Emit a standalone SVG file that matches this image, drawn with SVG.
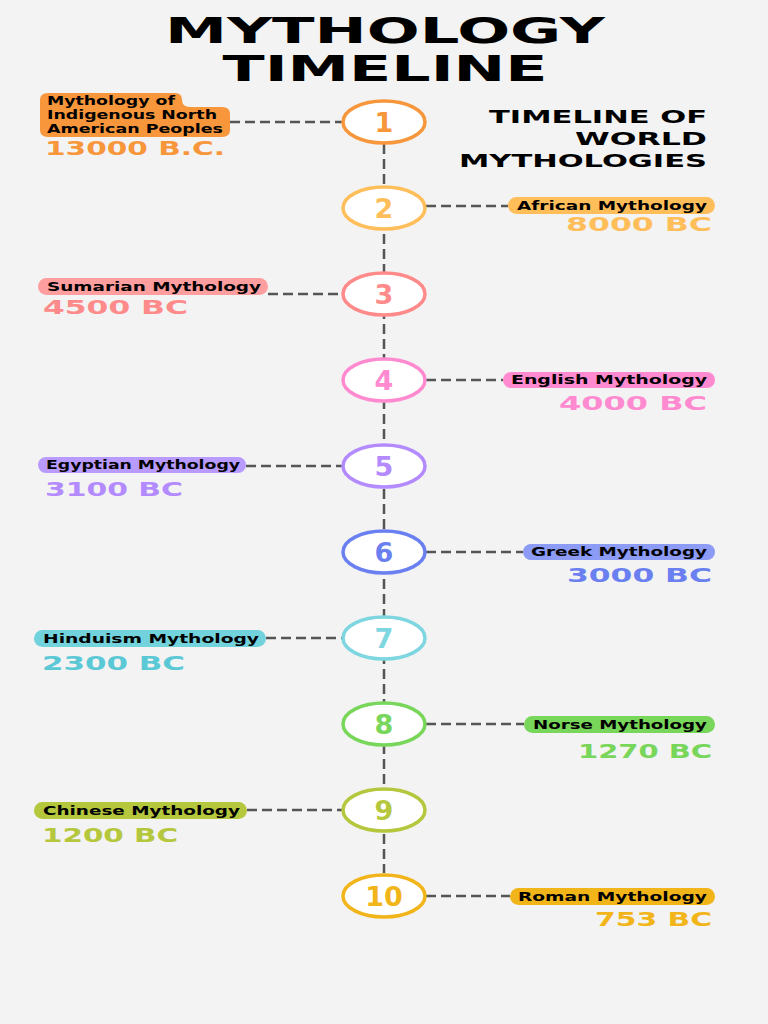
<svg xmlns="http://www.w3.org/2000/svg" width="768" height="1024" viewBox="0 0 768 1024">
<style>
text{font-family:"DejaVu Sans","Liberation Sans",sans-serif;font-weight:bold}
.t{font-size:36px;fill:#000}
.s{font-size:17px;fill:#000}
.n{font-size:27px;text-anchor:middle}
.l{font-size:12px;fill:#000}
.d{font-size:20px}
.c{fill:#fff;stroke-width:3.5}
.k{stroke:#555;stroke-width:2.5;stroke-dasharray:10 5;fill:none}
</style>
<rect width="768" height="1024" fill="#f3f3f3"/>
<text class="t" x="385" y="43" text-anchor="middle" textLength="440" lengthAdjust="spacingAndGlyphs">MYTHOLOGY</text>
<text class="t" x="385" y="81" text-anchor="middle" textLength="325" lengthAdjust="spacingAndGlyphs">TIMELINE</text>
<text class="s" x="707" y="123" text-anchor="end" textLength="218" lengthAdjust="spacingAndGlyphs">TIMELINE OF</text>
<text class="s" x="707" y="145" text-anchor="end" textLength="132" lengthAdjust="spacingAndGlyphs">WORLD</text>
<text class="s" x="707" y="167" text-anchor="end" textLength="248" lengthAdjust="spacingAndGlyphs">MYTHOLOGIES</text>
<g id="connectors">
<line class="k" x1="384" y1="144" x2="384" y2="873"/>
<line class="k" x1="230" y1="122" x2="342" y2="122"/>
<line class="k" x1="426" y1="206" x2="508" y2="206"/>
<line class="k" x1="268" y1="294" x2="342" y2="294"/>
<line class="k" x1="426" y1="380" x2="503" y2="380"/>
<line class="k" x1="246" y1="466" x2="342" y2="466"/>
<line class="k" x1="426" y1="552" x2="523" y2="552"/>
<line class="k" x1="266" y1="638" x2="342" y2="638"/>
<line class="k" x1="426" y1="724" x2="524" y2="724"/>
<line class="k" x1="247" y1="810" x2="342" y2="810"/>
<line class="k" x1="426" y1="896" x2="510" y2="896"/>
</g>
<g id="n1"><ellipse class="c" cx="384" cy="122" rx="41" ry="21" stroke="#F7963B"/><text class="n" x="384" y="132" fill="#F7963B">1</text>
<path d="M48 93 H175 Q182 93 182 100 Q182 107 190 107 H222 Q230 107 230 114 V130 Q230 137 222 137 H48 Q40 137 40 130 V100 Q40 93 48 93 Z" fill="#F7963B"/>
<text class="l" x="47" y="105" textLength="128" lengthAdjust="spacingAndGlyphs">Mythology of</text><text class="l" x="47" y="119" textLength="170" lengthAdjust="spacingAndGlyphs">Indigenous North</text><text class="l" x="47" y="133" textLength="176" lengthAdjust="spacingAndGlyphs">American Peoples</text>
<text class="d" x="45" y="155" fill="#F7963B" textLength="180" lengthAdjust="spacingAndGlyphs">13000 B.C.</text></g>
<g id="n2"><ellipse class="c" cx="384" cy="208" rx="41" ry="21" stroke="#FFBE5A"/><text class="n" x="384" y="218" fill="#FFBE5A">2</text>
<rect x="508" y="197" width="207" height="17" rx="8.5" fill="#FFBE5A"/><text class="l" x="517" y="210" textLength="190" lengthAdjust="spacingAndGlyphs">African Mythology</text>
<text class="d" x="712" y="231" text-anchor="end" fill="#FFBE5A" textLength="146" lengthAdjust="spacingAndGlyphs">8000 BC</text></g>
<g id="n3"><ellipse class="c" cx="384" cy="294" rx="41" ry="21" stroke="#FF8A8A"/><text class="n" x="384" y="304" fill="#FF8A8A">3</text>
<rect x="38" y="278" width="230" height="17" rx="8.5" fill="#FF9E9E"/><text class="l" x="47" y="291" textLength="214" lengthAdjust="spacingAndGlyphs">Sumarian Mythology</text>
<text class="d" x="43" y="314" fill="#FF8A8A" textLength="145" lengthAdjust="spacingAndGlyphs">4500 BC</text></g>
<g id="n4"><ellipse class="c" cx="384" cy="380" rx="41" ry="21" stroke="#FF8AD0"/><text class="n" x="384" y="390" fill="#FF8AD0">4</text>
<rect x="503" y="372" width="212" height="16" rx="8" fill="#FF8AD0"/><text class="l" x="511" y="384" textLength="196" lengthAdjust="spacingAndGlyphs">English  Mythology</text>
<text class="d" x="707" y="410" text-anchor="end" fill="#FF8AD0" textLength="148" lengthAdjust="spacingAndGlyphs">4000 BC</text></g>
<g id="n5"><ellipse class="c" cx="384" cy="466" rx="41" ry="21" stroke="#B48BFF"/><text class="n" x="384" y="476" fill="#B48BFF">5</text>
<rect x="38" y="457" width="208" height="16" rx="8" fill="#B99BFF"/><text class="l" x="46" y="469" textLength="194" lengthAdjust="spacingAndGlyphs">Egyptian Mythology</text>
<text class="d" x="45" y="496" fill="#B48BFF" textLength="138" lengthAdjust="spacingAndGlyphs">3100 BC</text></g>
<g id="n6"><ellipse class="c" cx="384" cy="552" rx="41" ry="21" stroke="#6A7FF0"/><text class="n" x="384" y="562" fill="#6A7FF0">6</text>
<rect x="523" y="544" width="192" height="16" rx="8" fill="#8C9BF5"/><text class="l" x="531" y="556" textLength="176" lengthAdjust="spacingAndGlyphs">Greek Mythology</text>
<text class="d" x="712" y="582" text-anchor="end" fill="#6A7FF0" textLength="145" lengthAdjust="spacingAndGlyphs">3000 BC</text></g>
<g id="n7"><ellipse class="c" cx="384" cy="638" rx="41" ry="21" stroke="#7DD6E0"/><text class="n" x="384" y="648" fill="#7DD6E0">7</text>
<rect x="34" y="630" width="232" height="17" rx="8.5" fill="#72D3DC"/><text class="l" x="43" y="643" textLength="216" lengthAdjust="spacingAndGlyphs">Hinduism Mythology</text>
<text class="d" x="42" y="670" fill="#5BC8D6" textLength="143" lengthAdjust="spacingAndGlyphs">2300 BC</text></g>
<g id="n8"><ellipse class="c" cx="384" cy="724" rx="41" ry="21" stroke="#78D65A"/><text class="n" x="384" y="734" fill="#78D65A">8</text>
<rect x="524" y="716" width="191" height="17" rx="8.5" fill="#78D65A"/><text class="l" x="533" y="729" textLength="174" lengthAdjust="spacingAndGlyphs">Norse Mythology</text>
<text class="d" x="712" y="758" text-anchor="end" fill="#78D65A" textLength="134" lengthAdjust="spacingAndGlyphs">1270 BC</text></g>
<g id="n9"><ellipse class="c" cx="384" cy="810" rx="41" ry="21" stroke="#B5C73C"/><text class="n" x="384" y="820" fill="#B5C73C">9</text>
<rect x="34" y="802" width="213" height="17" rx="8.5" fill="#B5C73C"/><text class="l" x="43" y="815" textLength="197" lengthAdjust="spacingAndGlyphs">Chinese Mythology</text>
<text class="d" x="42" y="842" fill="#B5C73C" textLength="136" lengthAdjust="spacingAndGlyphs">1200 BC</text></g>
<g id="n10"><ellipse class="c" cx="384" cy="896" rx="41" ry="21" stroke="#F2B519"/><text class="n" x="384" y="906" fill="#F2B519">10</text>
<rect x="510" y="888" width="205" height="17" rx="8.5" fill="#F2B519"/><text class="l" x="518" y="901" textLength="189" lengthAdjust="spacingAndGlyphs">Roman Mythology</text>
<text class="d" x="712" y="926" text-anchor="end" fill="#F2B519" textLength="117" lengthAdjust="spacingAndGlyphs">753 BC</text></g>
</svg>
